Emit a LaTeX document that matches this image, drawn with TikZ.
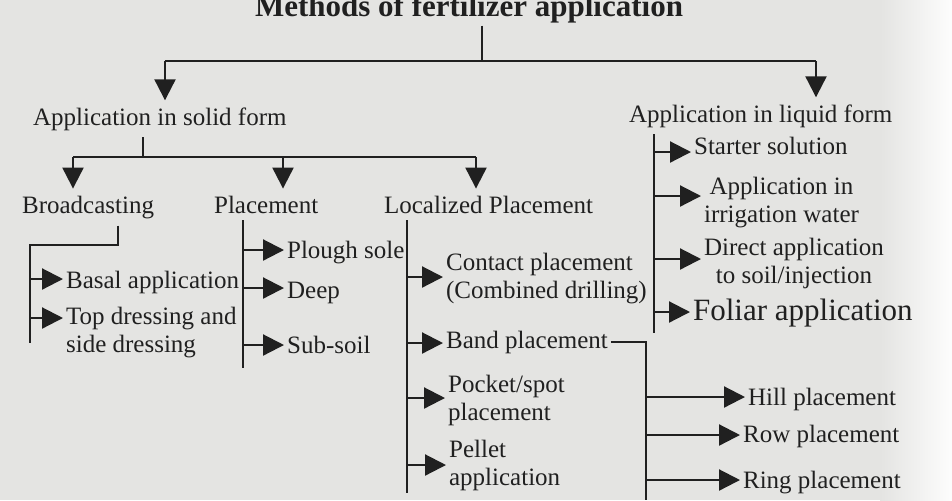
\documentclass[tikz,border=0pt]{standalone}
\usepackage{fontspec}
\setmainfont{Liberation Serif}
\usepackage{tikz}
\usetikzlibrary{arrows.meta,calc,positioning}
\definecolor{paper}{RGB}{228,228,226}
\definecolor{ink}{RGB}{32,32,32}
\tikzset{FERT style/.style={x=0.5pt,y=-0.5pt,line width=1.1pt,draw=ink,
    >={Triangle[length=10.5pt,width=10.5pt]}},
  item/.style={anchor=base west,inner xsep=1pt,inner ysep=3pt,text=ink,
    font=\fontsize{12.5}{14}\selectfont},
  block/.style={item,align=left},
  cblock/.style={item,align=center}}

\begin{document}
\begin{tikzpicture}[FERT style]
	% paper
	\fill[paper] (0,0) rectangle (952,500);
	\shade[left color=paper,right color=white!92!paper] (880,0) rectangle (952,500);
	\useasboundingbox (0,0) rectangle (952,500);

	% multi-line nodes sit on the baseline of their last line
	\node[anchor=base,inner sep=1pt,text=ink,font=\bfseries\fontsize{15.5}{18}\selectfont] (title) at (469,16) {Methods of fertilizer application};
	\node[item] (solid) at (30,125) {Application in solid form};
	\node[item] (liquid) at (626,122) {Application in liquid form};

	\node[item] (bc) at (19,213) {Broadcasting};
	\node[item] (pl) at (211,213) {Placement};
	\node[item] (lp) at (381,213) {Localized Placement};

	\node[item] (basal) at (63,288) {Basal application};
	\node[block] (topdr) at (63,352) {Top dressing and\\side dressing};
	\node[item] (plough) at (284,258) {Plough sole};
	\node[item] (deep) at (284,298) {Deep};
	\node[item] (sub) at (284,353) {Sub-soil};

	\node[block] (contact) at (443,298) {Contact placement\\(Combined drilling)};
	\node[item] (band) at (443,348) {Band placement};
	\node[block] (pocket) at (445,420) {Pocket/spot\\placement};
	\node[block] (pellet) at (446,485) {Pellet\\application};

	\node[item] (starter) at (691,154) {Starter solution};
	\node[cblock] (irrig) at (701,222) {Application in\\irrigation water};
	\node[cblock] (direct) at (701,283) {Direct application\\to soil/injection};
	\node[item,font=\fontsize{15.5}{18}\selectfont] (foliar) at (690,320) {Foliar application};

	\node[item] (hill) at (745,405) {Hill placement};
	\node[item] (row) at (740,442) {Row placement};
	\node[item] (ring) at (740,488) {Ring placement};

	% joints
	\coordinate (top) at (482,61);
	\coordinate (barL) at (165,61);
	\coordinate (barR) at (816,61);
	\coordinate (sJ) at (143,157);
	\coordinate (sL) at (73,157);
	\coordinate (sM) at (283,157);
	\coordinate (sR) at (476,157);
	\coordinate (bA) at (118,245);
	\coordinate (bB) at (30,245);
	\coordinate (bE) at (30,343);
	\coordinate (pE) at (243,368);
	\coordinate (lE) at (407,493);
	\coordinate (nE) at (646,500);
	\coordinate (qE) at (654,333);

	\draw (title.south -| top) -- (top);
	\draw (barL) -- (barR);
	\draw (solid.south -| sJ) -- (sJ);
	\draw (sL) -- (sR);
	\draw (bc.south -| bA) -- (bA) -- (bB) -- (bE);
	\draw (pl.south -| pE) -- (pE);
	\draw (lp.south -| lE) -- (lE);
	\draw (band.east) -| (nE);
	\draw (liquid.south -| qE) -- (qE);

	\path[->]
	(barL) edge (barL |- solid.north)
	(barR) edge (barR |- liquid.north)
	(sL) edge (sL |- bc.north)
	(sM) edge (sM |- pl.north)
	(sR) edge (sR |- lp.north)
	% broadcasting
	(30,279) edge (basal.west |- 0,279)
	(30,318) edge (topdr.west |- 0,318)
	% placement
	(243,250) edge (plough.west |- 0,250)
	(243,288) edge (deep.west |- 0,288)
	(243,345) edge (sub.west |- 0,345)
	% localized
	(407,277) edge (contact.west |- 0,277)
	(407,343) edge (band.west |- 0,343)
	(407,398) edge (pocket.west |- 0,398)
	(407,465) edge (pellet.west |- 0,465)
	% band placement
	(646,397) edge (hill.west |- 0,397)
	(646,435) edge (row.west |- 0,435)
	(646,480) edge (ring.west |- 0,480)
	% liquid
	(654,152) edge (starter.west |- 0,152)
	(654,196) edge (irrig.west |- 0,196)
	(654,259) edge (direct.west |- 0,259)
	(654,312) edge (foliar.west |- 0,312)
	;
\end{tikzpicture}
\end{document}
